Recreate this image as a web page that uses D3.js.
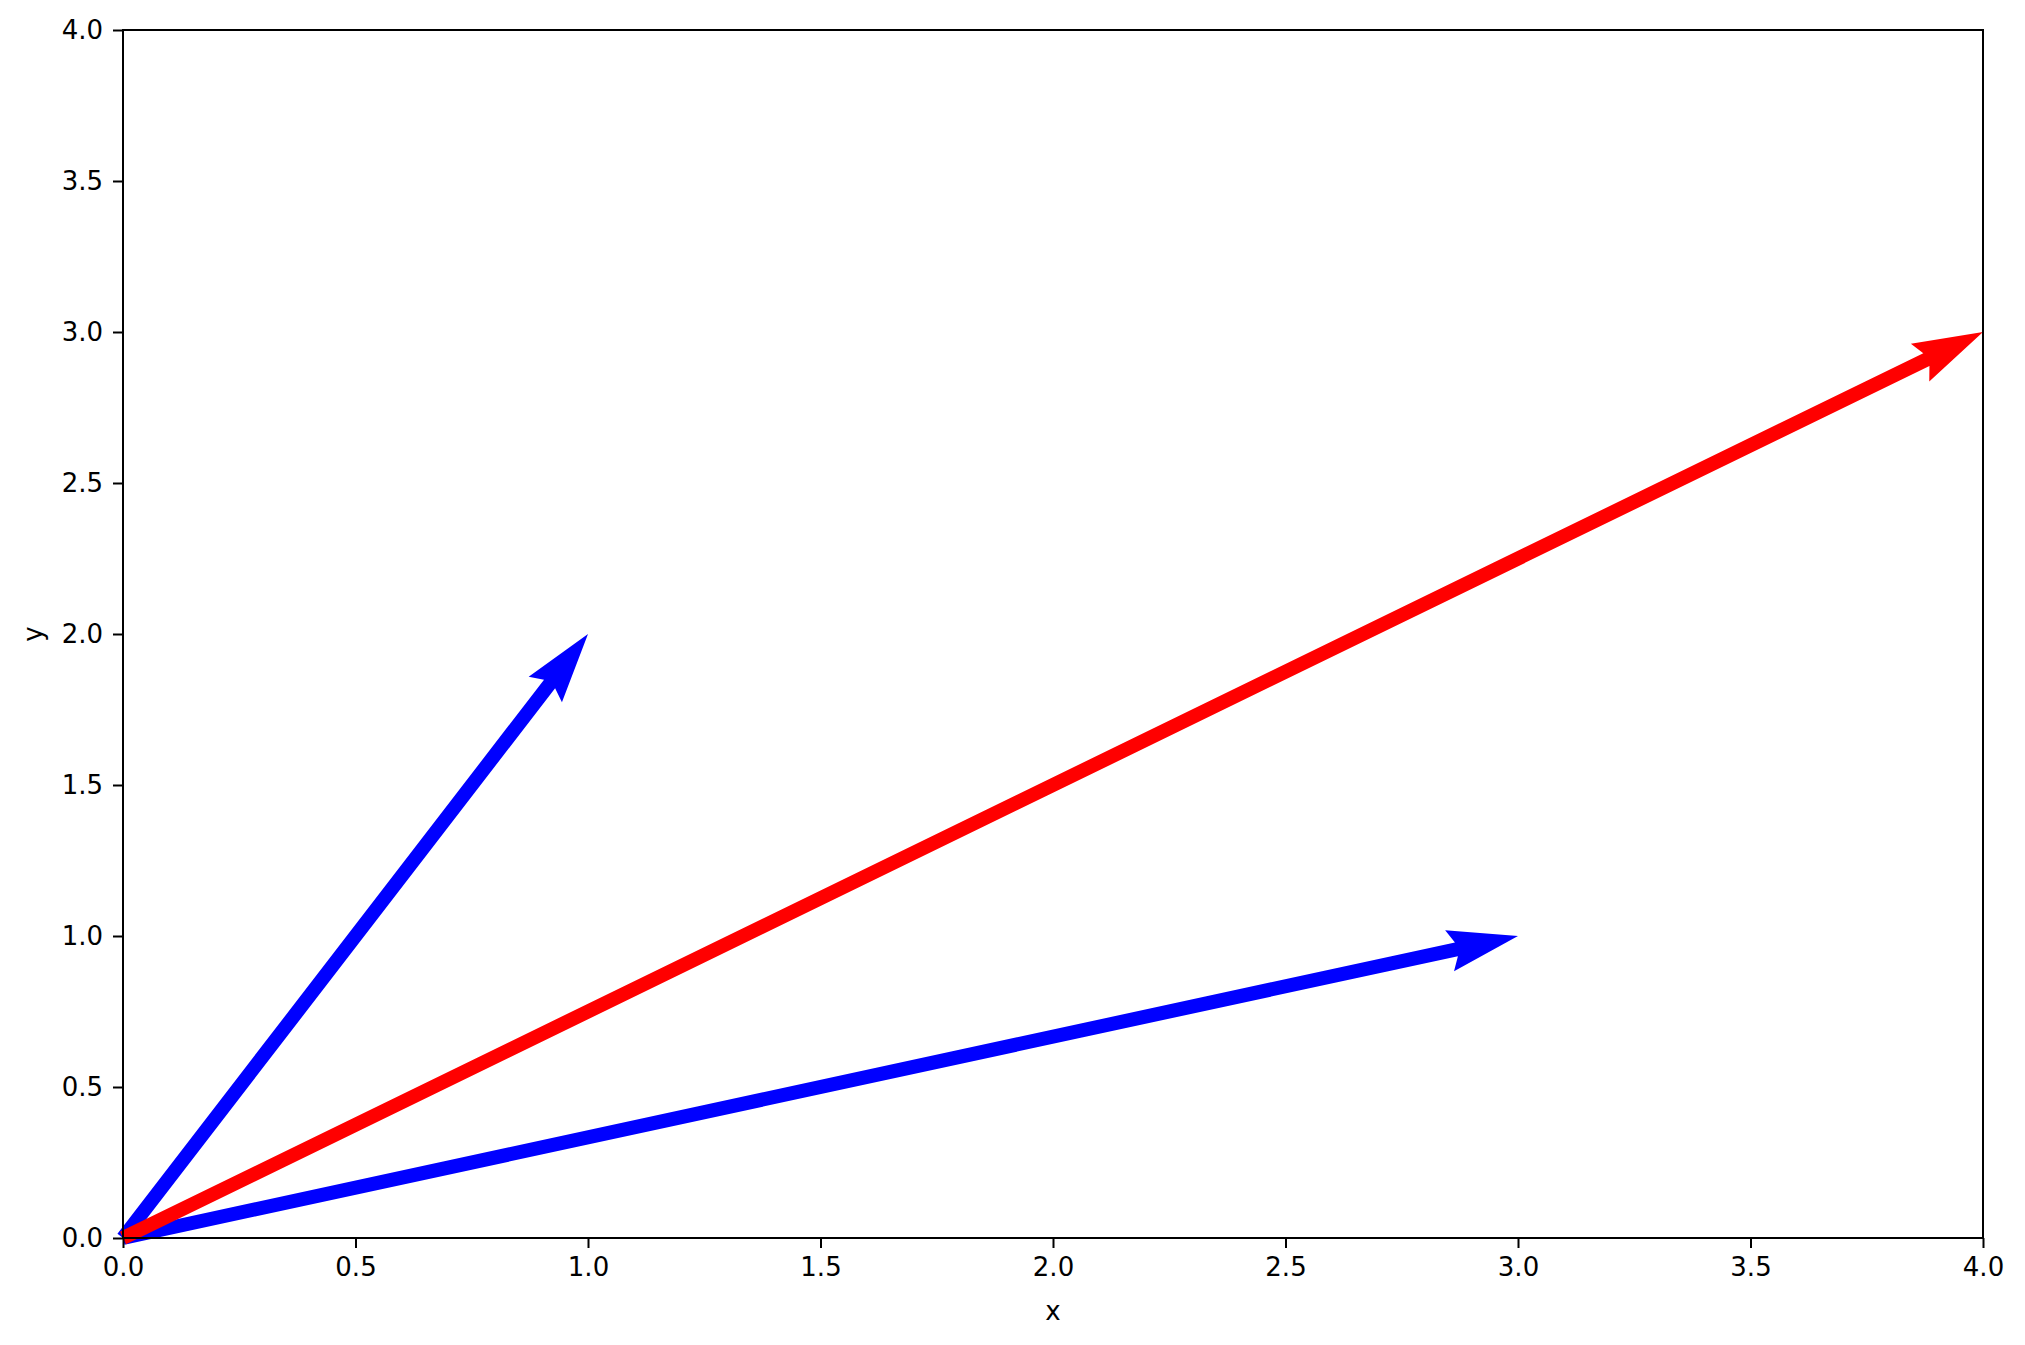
<!DOCTYPE html>
<html>
<head>
<meta charset="utf-8">
<script src="https://cdn.jsdelivr.net/npm/d3@7"></script>
<style>
  body { margin: 0; background: #fff; }
  svg text { font-family: "DejaVu Sans", sans-serif; }
</style>
</head>
<body>
<div id="chart"></div>
<script>
// Vectors drawn from origin (quiver style)
const vectorStarts = [[0, 0], [0, 0], [0, 0]];
const vectorEnds = [[1, 2], [3, 1], [4, 3]];
const vectorColors = ["#0000ff", "#0000ff", "#ff0000"];

const xTicks = [0, 0.5, 1, 1.5, 2, 2.5, 3, 3.5, 4];
const yTicks = [0, 0.5, 1, 1.5, 2, 2.5, 3, 3.5, 4];

const W = 2025, H = 1345;
const plotLeft = 123, plotRight = 1983, plotTop = 30, plotBottom = 1238;

const svg = d3.select("#chart").append("svg")
    .attr("width", W)
    .attr("height", H);

svg.append("rect").attr("width", W).attr("height", H).attr("fill", "#fff");

const x = d3.scaleLinear().domain([0, 4]).range([plotLeft, plotRight]);
const y = d3.scaleLinear().domain([0, 4]).range([plotBottom, plotTop]);

// Arrows (matplotlib quiver geometry: width w, head 3w wide, 5w long, axis length 4.5w)
const w = 14;
const arrows = svg.append("g");
vectorEnds.forEach((end, i) => {
    const x0 = x(vectorStarts[i][0]), y0 = y(vectorStarts[i][1]);
    const x1 = x(end[0]), y1 = y(end[1]);
    const dx = x1 - x0, dy = y1 - y0;
    const L = Math.hypot(dx, dy);
    const ux = dx / L, uy = dy / L;      // along
    const nx = -uy, ny = ux;             // normal
    const local = [
        [0, 0.5 * w], [L - 4.5 * w, 0.5 * w], [L - 5 * w, 1.5 * w], [L, 0],
        [L - 5 * w, -1.5 * w], [L - 4.5 * w, -0.5 * w], [0, -0.5 * w]
    ];
    const pts = local.map(([a, b]) => [x0 + a * ux + b * nx, y0 + a * uy + b * ny]);
    arrows.append("path")
        .attr("d", d3.line()(pts) + "Z")
        .attr("fill", vectorColors[i]);
});

// Axes
const xAxis = svg.append("g")
    .attr("transform", `translate(0,${plotBottom})`)
    .call(d3.axisBottom(x).tickValues(xTicks).tickFormat(d3.format(".1f"))
        .tickSize(10).tickSizeOuter(0).tickPadding(10));

const yAxis = svg.append("g")
    .attr("transform", `translate(${plotLeft},0)`)
    .call(d3.axisLeft(y).tickValues(yTicks).tickFormat(d3.format(".1f"))
        .tickSize(10).tickSizeOuter(0).tickPadding(10));

[xAxis, yAxis].forEach(g => {
    g.selectAll("text").attr("font-size", 26).attr("fill", "#000")
        .attr("font-family", "DejaVu Sans, sans-serif");
    g.selectAll("line").attr("stroke", "#000").attr("stroke-width", 2);
    g.select(".domain").remove();
});

// Spines
svg.append("rect")
    .attr("x", plotLeft).attr("y", plotTop)
    .attr("width", plotRight - plotLeft).attr("height", plotBottom - plotTop)
    .attr("fill", "none").attr("stroke", "#000").attr("stroke-width", 2);

// Axis labels
svg.append("text")
    .attr("x", (plotLeft + plotRight) / 2)
    .attr("y", 1320)
    .attr("text-anchor", "middle")
    .attr("font-size", 26)
    .text("x");

svg.append("text")
    .attr("transform", `translate(42,${(plotTop + plotBottom) / 2}) rotate(-90)`)
    .attr("text-anchor", "middle")
    .attr("font-size", 26)
    .text("y");
</script>
</body>
</html>
